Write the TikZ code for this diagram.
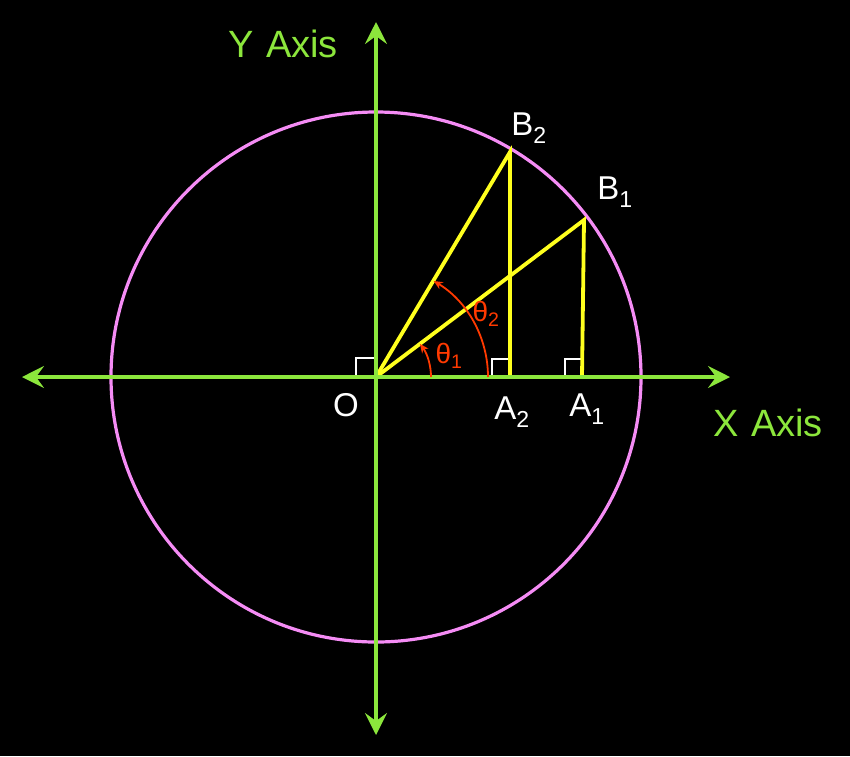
\documentclass[tikz,border=0pt]{standalone}
\usepackage{fontspec}
\setmainfont{Liberation Sans}
\usetikzlibrary{arrows.meta}
\definecolor{axg}{HTML}{8CE63C}
\definecolor{circ}{HTML}{F58CF5}
\definecolor{yel}{HTML}{FFFF1E}
\definecolor{ang}{HTML}{FF3A00}
\begin{document}
\begin{tikzpicture}[x=1pt,y=-1pt,
  axis/.style={axg,line width=3.2pt,{Stealth[length=22pt,width=22pt,inset=8pt]}-{Stealth[length=22pt,width=22pt,inset=8pt]}},
  tri/.style={yel,line width=3.8pt},
  rmark/.style={white,line width=1.8pt},
  arcs/.style={ang,line width=1.8pt,-{Stealth[length=9pt,width=8pt]}},
  lab/.style={white,font=\fontsize{33}{33}\selectfont},
  axl/.style={axg,font=\fontsize{38}{38}\selectfont},
  thl/.style={ang,font=\fontsize{28}{28}\selectfont}]
\fill[black] (0,0) rectangle (850,756);
\useasboundingbox (0,0) rectangle (850,756);
\coordinate (O) at (376,377);
\coordinate (A1) at (582,377);
\coordinate (A2) at (510,377);
\coordinate (B1) at (584,220);
\coordinate (B2) at (510,152);
\coordinate (xl) at (22,377);
\coordinate (xr) at (730,377);
\coordinate (yt) at (376,22);
\coordinate (yb) at (376,735);
\draw[circ,line width=3.2pt] (O) circle (265);
\draw[rmark] (356,377) -- (356,358) -- (376,358);
\draw[rmark] (492,377) -- (492,359) -- (510,359);
\draw[rmark] (565,377) -- (565,359) -- (582,359);
\draw[tri] (O) -- (B2) -- (A2);
\draw[tri] (O) -- (B1) -- (A1);
\draw[axis] (xl) -- (xr);
\draw[axis] (yt) -- (yb);
\draw[arcs] (O) ++(0:55) arc[start angle=0,end angle=-37,radius=55];
\draw[arcs] (O) ++(0:112) arc[start angle=0,end angle=-59,radius=112];
\node[lab] (lB2) at (529,128) {B\textsubscript{2}};
\node[lab] (lB1) at (615,192) {B\textsubscript{1}};
\node[lab] (lO) at (346,405) {O};
\node[lab] (lA2) at (512,412) {A\textsubscript{2}};
\node[lab] (lA1) at (587,409) {A\textsubscript{1}};
\node[thl] (t1) at (449,356) {θ\textsubscript{1}};
\node[thl] (t2) at (486,314) {θ\textsubscript{2}};
\node[axl] (ya) at (283,44) {Y\,\,Axis};
\node[axl] (xa) at (768,423) {X\,\,Axis};
\end{tikzpicture}
\end{document}
